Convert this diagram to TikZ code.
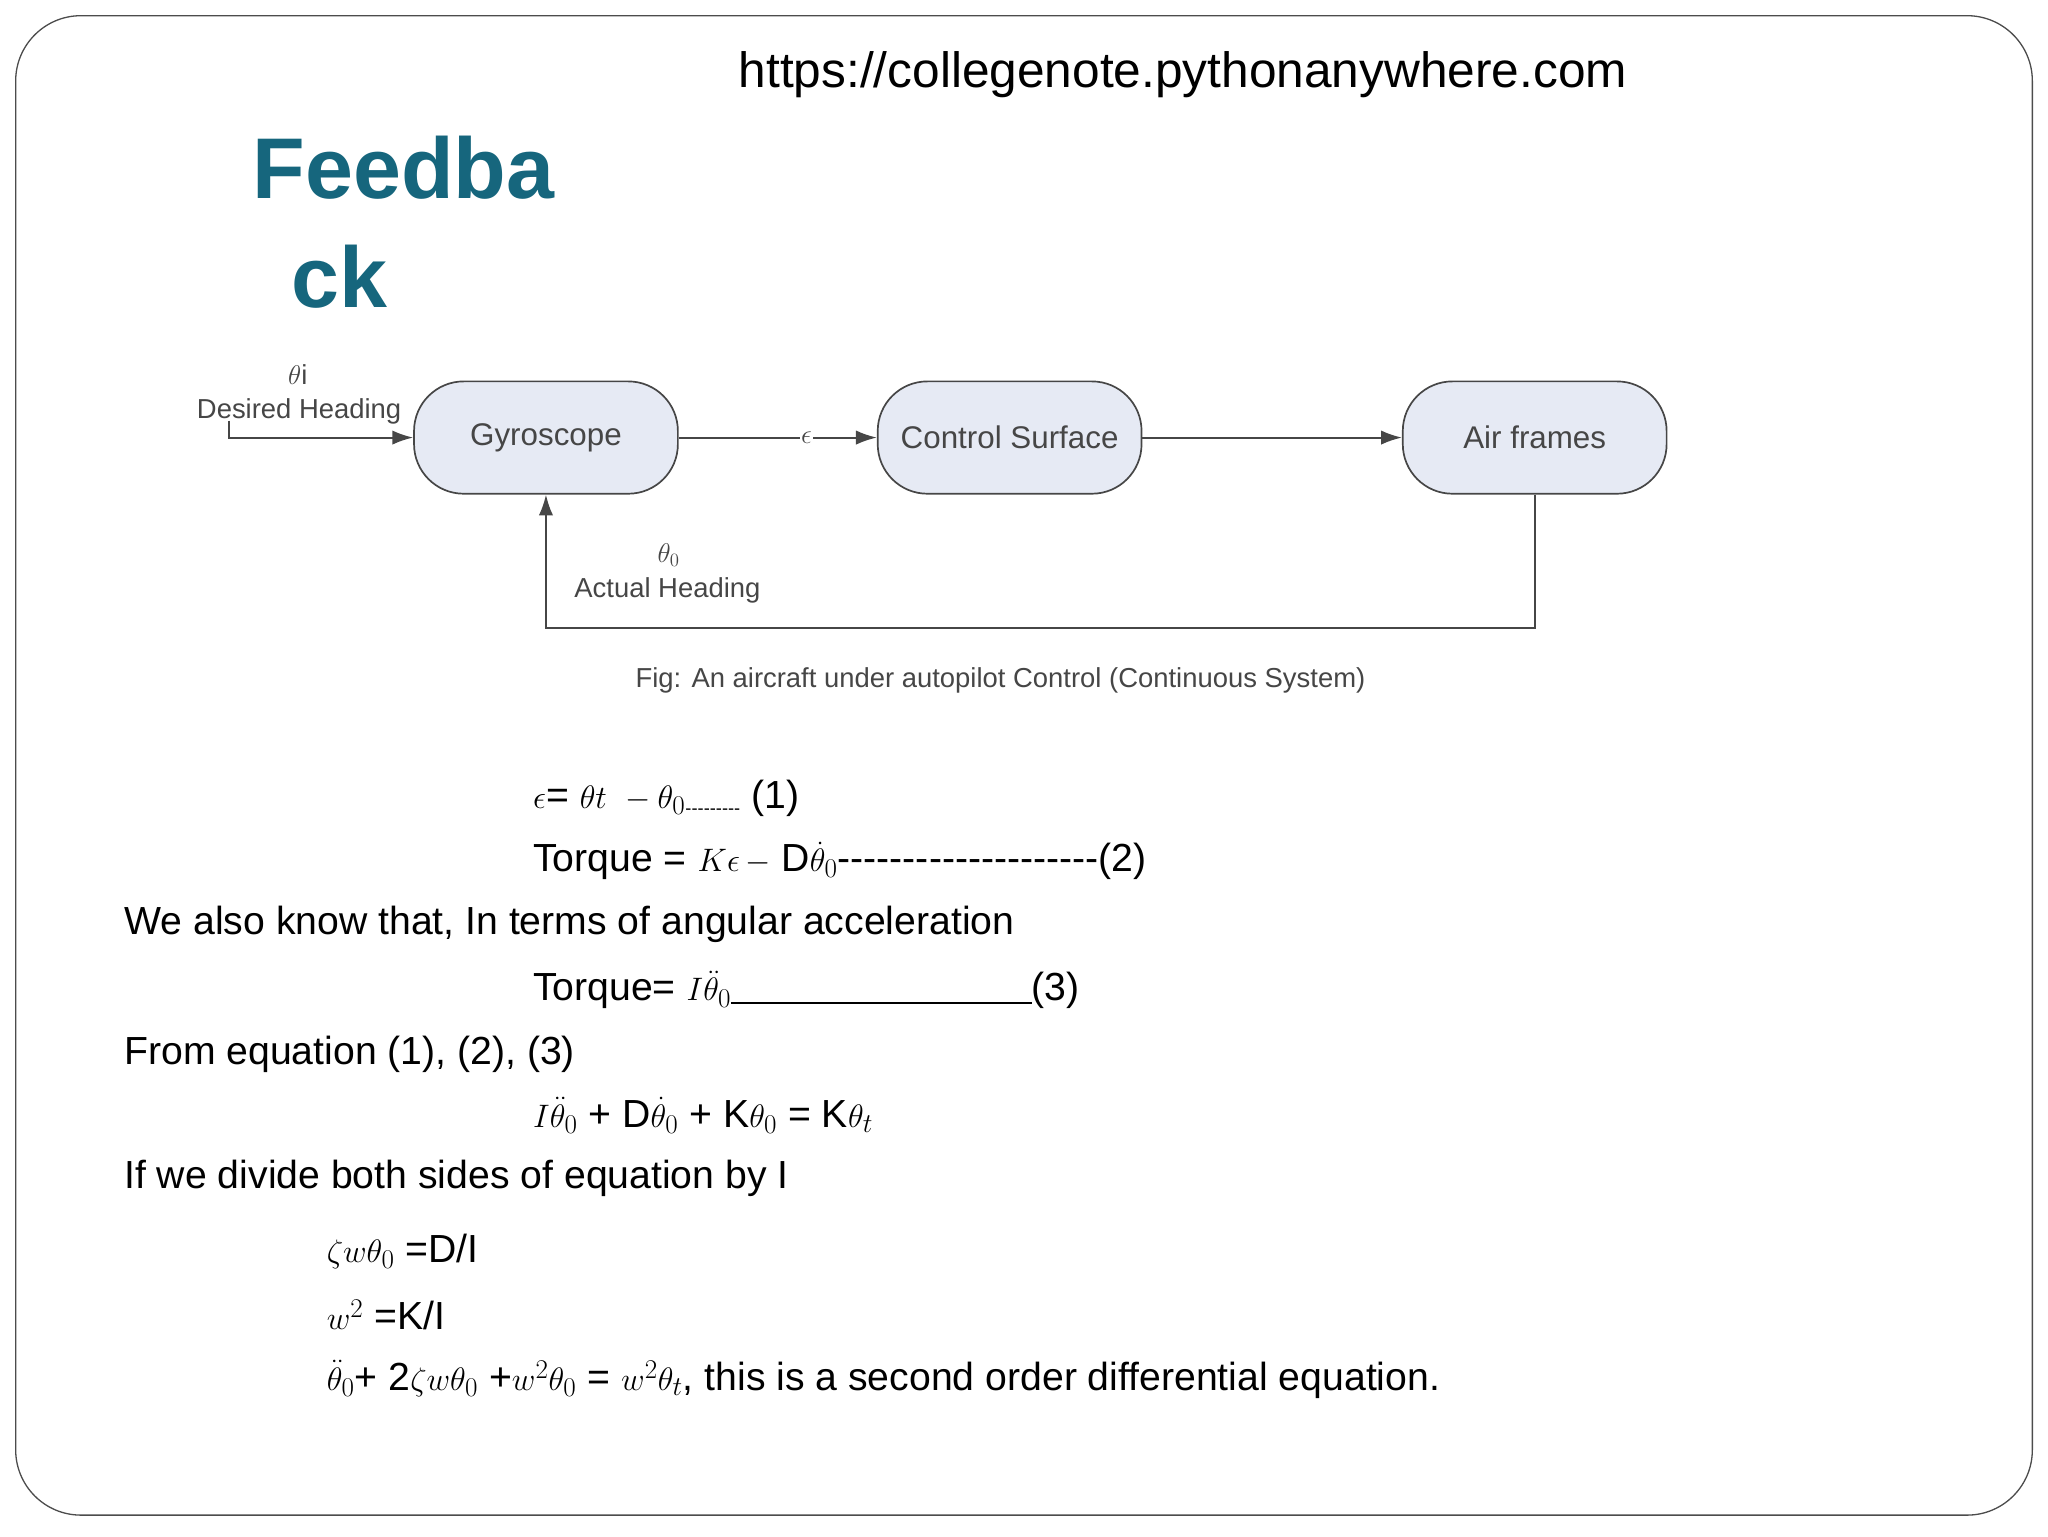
\documentclass[tikz,border=0pt]{standalone}
\usepackage{fontspec}
\setmainfont{Liberation Sans}
\usepackage{amsmath}
\usetikzlibrary{arrows.meta}
\definecolor{teal1}{RGB}{22,102,125}
\definecolor{boxfill}{RGB}{230,234,244}
\definecolor{dg}{RGB}{70,70,70}
\newcommand\mydashes[1]{\foreach\i in {1,...,#1}{-}}
\begin{document}
\begin{tikzpicture}[x=1pt,y=-1pt,
  blk/.style={draw=dg,line width=1.3pt,fill=boxfill,rounded corners=38pt,minimum width=202pt,minimum height=86pt,font=\fontsize{24}{28}\selectfont,text=dg},
  con/.style={draw=dg,line width=1.5pt,-{Latex[length=16pt,width=11pt]}},
  lbl/.style={font=\fontsize{21}{24}\selectfont,text=dg},
  eq/.style={anchor=west,font=\fontsize{30}{34}\selectfont,inner sep=0pt}]
\useasboundingbox (0,0) rectangle (1568,1176);
\draw[line width=1pt,rounded corners=50pt,draw=black!70] (12,12) rectangle (1556,1160);
\node[anchor=west,font=\fontsize{38}{44}\selectfont] (url) at (562,57) {https://collegenote.pythonanywhere.com};
\node[anchor=west,font=\bfseries\fontsize{66}{70}\selectfont,text=teal1] (t1) at (190,128) {Feedba};
\node[anchor=west,font=\bfseries\fontsize{66}{70}\selectfont,text=teal1] (t2) at (220,212) {ck};
\node[blk] (g) at (418,335) {Gyroscope};
\node[blk] (c) at (773,335) {Control Surface};
\node[blk] (a) at (1175,335) {Air frames};
\coordinate (in) at (175,322);
\draw[con] (in) |- (g.west);
\node[lbl] (thi) at (228,287) {$\theta$i};
\node[lbl] (dh) at (229,315) {Desired Heading};
\draw[con] (g) -- (c) node[midway,lbl,fill=white,inner sep=1pt,xshift=22pt] (eps) {$\epsilon$};
\draw[con] (c) -- (a);
\coordinate (fb1) at (1175,481);
\coordinate (fb2) at (418,481);
\draw[con] (a.south) -- (fb1) -- (fb2) -- (g.south);
\node[lbl] (th0) at (512,425) {$\theta_0$};
\node[lbl] (ah) at (511,452) {Actual Heading};
\node[lbl,font=\fontsize{21}{24}\selectfont] (cap) at (766,521) {Fig: An aircraft under autopilot Control (Continuous System)};
\node[eq] (e1) at (408,611) {$\epsilon$= $\theta t\ -\theta_0$\raisebox{-0.3ex}{\fontsize{14}{14}\selectfont\mydashes{9}} (1)};
\node[eq] (e2) at (408,659) {Torque = $K\epsilon\,-$ D$\dot\theta_0$\mydashes{20}(2)};
\node[eq] (e3) at (95,708) {We also know that, In terms of angular acceleration};
\node[eq] (e4) at (408,758) {Torque= $I\ddot\theta_0$\rule[-0.15ex]{230pt}{1.2pt}(3)};
\node[eq] (e5) at (95,807) {From equation (1), (2), (3)};
\node[eq] (e6) at (408,854) {$I\ddot\theta_0$ + D$\dot\theta_0$ + K$\theta_0$ = K$\theta_t$};
\node[eq] (e7) at (95,902) {If we divide both sides of equation by I};
\node[eq] (e8) at (250,958) {$\zeta w\theta_0$ =D/I};
\node[eq] (e9) at (250,1007) {$w^2$ =K/I};
\node[eq] (e10) at (250,1056) {$\ddot\theta_0$+ 2$\zeta w\theta_0$ +$w^2\theta_0$ = $w^2\theta_t$, this is a second order differential equation.};
\end{tikzpicture}
\end{document}
